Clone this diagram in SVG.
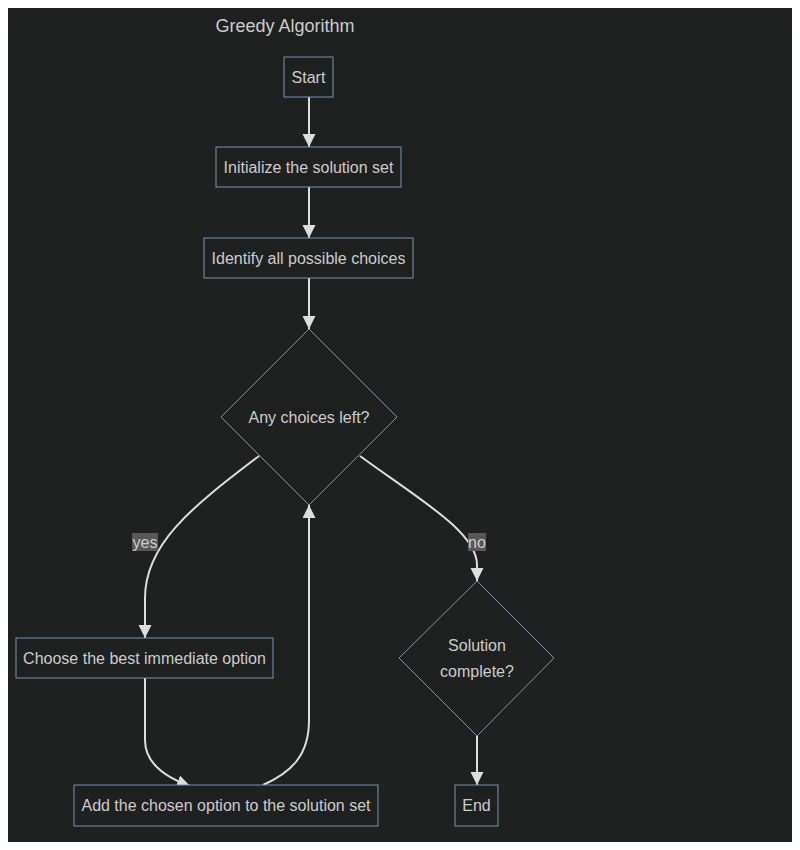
<svg xmlns="http://www.w3.org/2000/svg" width="800" height="850" viewBox="0 0 800 850">
<style>
.node rect,.node polygon{fill:#1f2020;stroke:#7a93ae;stroke-width:1}
text{font-family:"Liberation Sans",Arial,sans-serif;font-size:16px;fill:#cccccc;text-anchor:middle;dominant-baseline:central}
.edge{fill:none;stroke:#dddddd;stroke-width:2}
.lbl rect{fill:#585858}
.lbl text{fill:#cccccc}
</style>
<defs>
<marker id="arr" markerUnits="userSpaceOnUse" markerWidth="16" markerHeight="16" refX="13" refY="6.5" orient="auto">
<path d="M0,0 L13,6.5 L0,13 Z" fill="#dddddd"/>
</marker>
</defs>
<rect x="0" y="0" width="800" height="850" fill="#ffffff"/>
<rect x="8" y="8" width="784" height="834" fill="#1f2020"/>
<text x="285" y="26" style="font-size:18px">Greedy Algorithm</text>
<g id="connectors">
<path class="edge" d="M309,97 L309,147" marker-end="url(#arr)"/>
<path class="edge" d="M309,187 L309,238" marker-end="url(#arr)"/>
<path class="edge" d="M309,278 L309,329" marker-end="url(#arr)"/>
<path class="edge" d="M259,456 C190,508 145,545 145,598 L145,638" marker-end="url(#arr)"/>
<path class="edge" d="M360,456 C420,500 477,532 477,565 L477,581" marker-end="url(#arr)"/>
<path class="edge" d="M145,678 L145,740 C145,762 162,776 190,786" marker-end="url(#arr)"/>
<path class="edge" d="M263,785 C292,772 309,755 309,720 L309,505" marker-end="url(#arr)"/>
<path class="edge" d="M477,736 L477,785" marker-end="url(#arr)"/>
<g class="lbl"><rect x="132" y="533" width="26" height="18"/><text x="145" y="542">yes</text></g>
<g class="lbl"><rect x="468" y="533" width="18" height="18"/><text x="477" y="542">no</text></g>
</g>
<g id="start" class="node"><rect x="284" y="57" width="49" height="40"/><text x="308.5" y="77">Start</text></g>
<g id="init" class="node"><rect x="216" y="147" width="185" height="40"/><text x="308.5" y="167">Initialize the solution set</text></g>
<g id="identify" class="node"><rect x="204" y="238" width="209" height="40"/><text x="308.5" y="258">Identify all possible choices</text></g>
<g id="choices" class="node"><polygon points="309,329 397,417 309,505 221,417"/><text x="309" y="417">Any choices left?</text></g>
<g id="choose" class="node"><rect x="16" y="638" width="257" height="40"/><text x="144.5" y="658">Choose the best immediate option</text></g>
<g id="add" class="node"><rect x="74" y="785" width="304" height="41"/><text x="226" y="805">Add the chosen option to the solution set</text></g>
<g id="complete" class="node"><polygon points="477,581 554,658 477,736 399,658"/><text x="477" y="645">Solution</text><text x="477" y="671">complete?</text></g>
<g id="end" class="node"><rect x="455" y="785" width="43" height="41"/><text x="476.5" y="805">End</text></g>
</svg>
